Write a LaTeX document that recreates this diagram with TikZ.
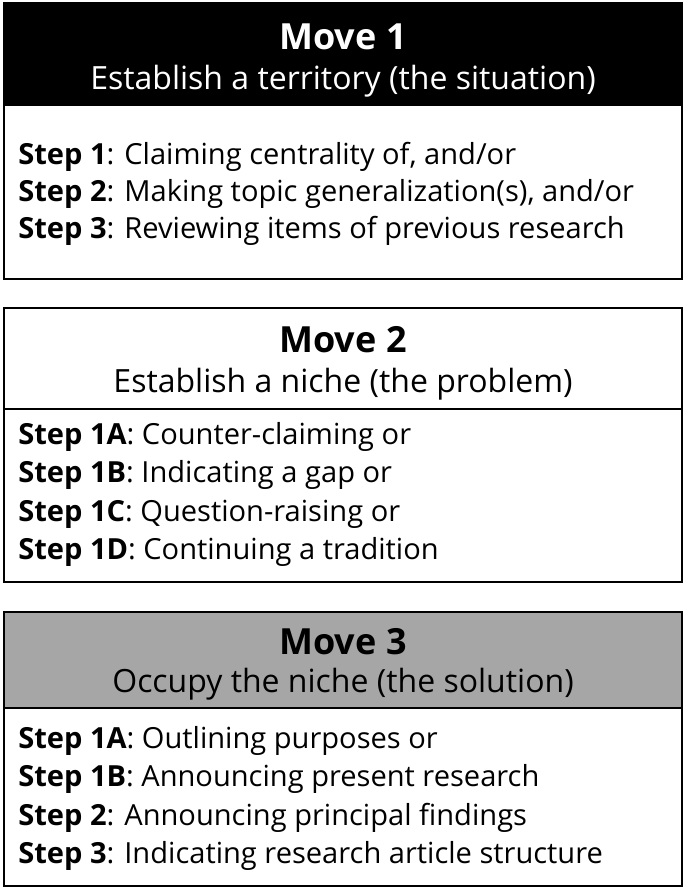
\documentclass[tikz,border=0pt]{standalone}
\usepackage{fontspec}
\setmainfont{Open Sans}
\begin{document}
\begin{tikzpicture}[x=0.75pt,y=-0.75pt,
  boxline/.style={draw=black,line width=2.2pt},
  movetitle/.style={font=\fontsize{27}{30}\selectfont\bfseries},
  movesub/.style={font=\fontsize{24}{27}\selectfont},
  steptext/.style={font=\fontsize{21.8}{24}\selectfont,anchor=west,inner sep=0pt}]

  \useasboundingbox (0,0) rectangle (685,890);

% Move 1
  \fill[black] (4,3) rectangle (682,105);
  \draw[boxline] (4,3) rectangle (682,279);
  \draw[boxline] (4,105) -- (682,105);
  \node[movetitle,text=white] (m1) at (343,37) {Move 1};
  \node[movesub,text=white] (m1s) at (343,81) {Establish a territory (the situation)};
  \node[steptext] (s11) at (18,157) {\textbf{Step 1}: Claiming centrality of, and/or};
  \node[steptext] (s12) at (18,194) {\textbf{Step 2}: Making topic generalization(s), and/or};
  \node[steptext] (s13) at (18,231) {\textbf{Step 3}: Reviewing items of previous research};

% Move 2
  \draw[boxline] (4,308) rectangle (682,582);
  \draw[boxline] (4,409) -- (682,409);
  \node[movetitle] (m2) at (343,340) {Move 2};
  \node[movesub] (m2s) at (343,384) {Establish a niche (the problem)};
  \node[steptext] (s21) at (18,437) {\textbf{Step 1A}: Counter-claiming or};
  \node[steptext] (s22) at (18,475) {\textbf{Step 1B}: Indicating a gap or};
  \node[steptext] (s23) at (18,514) {\textbf{Step 1C}: Question-raising or};
  \node[steptext] (s24) at (18,552) {\textbf{Step 1D}: Continuing a tradition};

% Move 3
  \fill[black!35] (4,612) rectangle (682,708);
  \draw[boxline] (4,612) rectangle (682,886);
  \draw[boxline] (4,708) -- (682,708);
  \node[movetitle] (m3) at (343,642) {Move 3};
  \node[movesub] (m3s) at (343,684) {Occupy the niche (the solution)};
  \node[steptext] (s31) at (18,741) {\textbf{Step 1A}: Outlining purposes or};
  \node[steptext] (s32) at (18,779) {\textbf{Step 1B}: Announcing present research};
  \node[steptext] (s33) at (18,818) {\textbf{Step 2}: Announcing principal findings};
  \node[steptext] (s34) at (18,856) {\textbf{Step 3}: Indicating research article structure};

\end{tikzpicture}
\end{document}
